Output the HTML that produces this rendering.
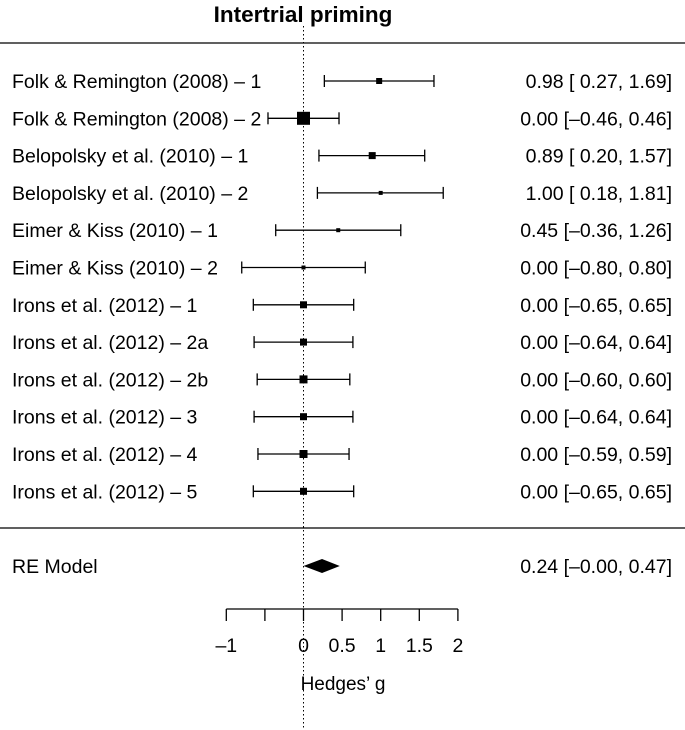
<!DOCTYPE html>
<html><head><meta charset="utf-8"><style>
html,body{margin:0;padding:0;background:#fff;}
svg{display:block;font-family:"Liberation Sans",Arial,sans-serif;}
</style></head><body>
<svg id="chart" width="685" height="730">
<text x="303" y="22" text-anchor="middle" font-size="22.5" font-weight="bold">Intertrial priming</text>
<line x1="0" y1="43" x2="685" y2="43" stroke="#000" stroke-width="1.3"/>
<line x1="0" y1="528" x2="685" y2="528" stroke="#000" stroke-width="1.3"/>
<line x1="303.5" y1="26" x2="303.5" y2="730" stroke="#000" stroke-width="1" stroke-dasharray="1.5,2.5"/>
<g id="rows"></g>
<g id="axis"></g>
<text x="343" y="690" text-anchor="middle" font-size="19">Hedges’ g</text>
</svg>
<script>
const studies = ["Folk & Remington (2008) – 1","Folk & Remington (2008) – 2","Belopolsky et al. (2010) – 1","Belopolsky et al. (2010) – 2","Eimer & Kiss (2010) – 1","Eimer & Kiss (2010) – 2","Irons et al. (2012) – 1","Irons et al. (2012) – 2a","Irons et al. (2012) – 2b","Irons et al. (2012) – 3","Irons et al. (2012) – 4","Irons et al. (2012) – 5"];
const estimates = [0.98,0.00,0.89,1.00,0.45,0.00,0.00,0.00,0.00,0.00,0.00,0.00];
const lower = [0.27,-0.46,0.20,0.18,-0.36,-0.80,-0.65,-0.64,-0.60,-0.64,-0.59,-0.65];
const upper = [1.69,0.46,1.57,1.81,1.26,0.80,0.65,0.64,0.60,0.64,0.59,0.65];
const weights = [6,13,7,4,4,4,7,7,8,7,8,7];
const modelEst = 0.24, modelLo = -0.00, modelHi = 0.47;
const ticks = [-1,-0.5,0,0.5,1,1.5,2];
const tickLabels = ["–1","","0","0.5","1","1.5","2"];

const NS="http://www.w3.org/2000/svg";
const FS=19.5;
const xs = v => 303.5 + v*77.2;
const ys = i => 81 + i*37.3;
const f = v => v<0||v.toFixed(2)==="-0.00" ? "–"+Math.abs(v).toFixed(2) : v.toFixed(2);
const fpad = v => (v<0) ? f(v) : " "+v.toFixed(2);
function mk(tag,attrs,parent){const e=document.createElementNS(NS,tag);for(const k in attrs)e.setAttribute(k,attrs[k]);parent.appendChild(e);return e;}
const rows=document.getElementById('rows');
studies.forEach((s,i)=>{
  const y=ys(i);
  const g=mk('g',{},rows);
  
  
  const t=mk('text',{x:12,y:y+7,'font-size':FS},g);t.textContent=s;
  
  
  const l=mk('line',{x1:xs(lower[i]),x2:xs(upper[i]),y1:y,y2:y,stroke:'#000','stroke-width':1.3},g);
  
  
  [lower[i],upper[i]].forEach(v=>{const c=mk('line',{x1:xs(v),x2:xs(v),y1:y-6,y2:y+6,stroke:'#000','stroke-width':1.3},g);
    
    });
  const w=weights[i];
  const r=mk('rect',{x:xs(estimates[i])-w/2,y:y-w/2,width:w,height:w,fill:'#000'},g);
  
  
  const v=mk('text',{x:672,y:y+7,'font-size':FS,'text-anchor':'end','xml:space':'preserve'},g);
  v.textContent=estimates[i].toFixed(2)+" ["+fpad(lower[i])+", "+upper[i].toFixed(2)+"]";
  
  
});
const my=566;
const rl=mk('text',{x:12,y:my+7,'font-size':FS},rows);rl.textContent="RE Model";


const d=mk('polygon',{points:`${xs(modelLo)},${my} ${xs(modelEst)},${my-7} ${xs(modelHi)},${my} ${xs(modelEst)},${my+7}`,fill:'#000'},rows);


const rv=mk('text',{x:672,y:my+7,'font-size':FS,'text-anchor':'end'},rows);
rv.textContent=modelEst.toFixed(2)+" [–0.00, "+modelHi.toFixed(2)+"]";


const ax=document.getElementById('axis');
const al=mk('line',{x1:xs(ticks[0]),x2:xs(ticks[ticks.length-1]),y1:609,y2:609,stroke:'#000','stroke-width':1.3},ax);


ticks.forEach((t,i)=>{
  const tk=mk('line',{x1:xs(t),x2:xs(t),y1:609,y2:621,stroke:'#000','stroke-width':1.3},ax);
  
  
  if(tickLabels[i]){const tl=mk('text',{x:xs(t),y:652,'font-size':FS,'text-anchor':'middle'},ax);tl.textContent=tickLabels[i];
    
    }
});
</script>
</body></html>
